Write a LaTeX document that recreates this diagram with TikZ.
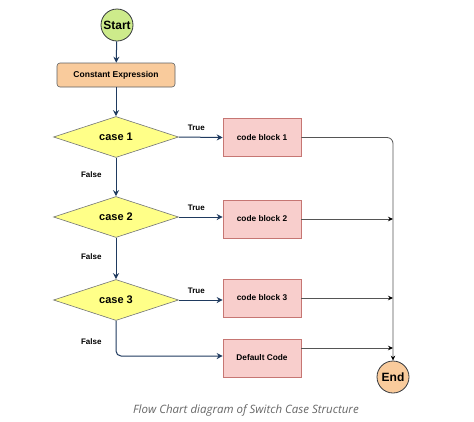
\documentclass[tikz,border=0pt]{standalone}
\usepackage{fontspec}
\setmainfont{Liberation Sans}
\newfontfamily\capfont{Open Sans}
\usetikzlibrary{shapes.geometric,arrows.meta}
\definecolor{startfill}{HTML}{CDEB8B}
\definecolor{orangefill}{HTML}{F9CB9C}
\definecolor{diafill}{HTML}{FFFF88}
\definecolor{redfill}{HTML}{F8CECC}
\definecolor{redline}{HTML}{B85450}
\definecolor{darkline}{HTML}{36393D}
\definecolor{navy}{HTML}{1F3A5F}
\definecolor{grayline}{HTML}{555555}
\tikzset{
  termnode/.style={circle,draw=darkline,line width=0.8pt,minimum size=32pt,inner sep=0pt,font=\bfseries\fontsize{12}{14}\selectfont},
  exprbox/.style={rectangle,rounded corners=3pt,draw=darkline!80,line width=0.6pt,fill=orangefill,minimum width=118pt,minimum height=24pt,inner sep=0pt,font=\bfseries\fontsize{8.5}{10}\selectfont},
  casenode/.style={diamond,aspect=3,draw=darkline!70,line width=0.6pt,fill=diafill,minimum width=125pt,minimum height=41pt,inner sep=0pt,font=\bfseries\fontsize{11}{13}\selectfont},
  codebox/.style={rectangle,draw=redline!80,line width=0.6pt,fill=redfill,minimum width=78pt,minimum height=38pt,inner sep=0pt,font=\bfseries\fontsize{8.3}{10}\selectfont},
  lbl/.style={font=\bfseries\fontsize{8}{9}\selectfont,inner sep=0pt},
  navyarrow/.style={draw=navy,line width=1pt,-{Stealth[length=6pt,width=6pt]}},
  grayarrow/.style={draw=grayline,line width=0.8pt,-{Stealth[length=5pt,width=4.5pt,black]}}
}
\begin{document}
\begin{tikzpicture}[x=1pt,y=-1pt]
\useasboundingbox[fill=white] (0,0) rectangle (474,421);
\node[termnode,fill=startfill] (start) at (117,25) {Start};
\node[exprbox] (expr) at (116,75) {Constant Expression};
\node[casenode] (c1) at (116,137) {case 1};
\node[casenode] (c2) at (116,217) {case 2};
\node[casenode] (c3) at (116,300) {case 3};
\node[codebox] (b1) at (262,137.5) {code block 1};
\node[codebox] (b2) at (262,219) {code block 2};
\node[codebox] (b3) at (262,298) {code block 3};
\node[codebox] (def) at (262,358) {Default Code};
\node[termnode,fill=orangefill] (end) at (393,377) {End};

\draw[navyarrow] (start) -- (expr);
\draw[navyarrow] (expr) -- (c1);
\draw[navyarrow] (c1) -- node[lbl,pos=0.45,left=14pt] {False} (c2);
\draw[navyarrow] (c2) -- node[lbl,pos=0.45,left=14pt] {False} (c3);
\draw[navyarrow] (c1.east) -- node[lbl,above=6pt,pos=0.4] {True} (b1.west);
\draw[navyarrow] (c2.east) -- node[lbl,above=6pt,pos=0.4] {True} (c2.east -| b2.west);
\draw[navyarrow] (c3.east) -- node[lbl,above=6pt,pos=0.4] {True} (c3.east -| b3.west);
\draw[navyarrow,rounded corners=5pt] (c3.south) |- node[lbl,pos=0.3,left=14pt] {False} ([yshift=2pt]def.west);

\draw[grayarrow,rounded corners=6pt] (b1.east) -| (end.north);
\draw[grayarrow] (b2.east) -- (b2.east -| end.north);
\draw[grayarrow] (b3.east) -- (b3.east -| end.north);
\coordinate (defout) at ([yshift=10pt]def.east);
\draw[grayarrow] (defout) -- (defout -| end.north);

\node[font=\capfont\itshape\fontsize{11.5}{13}\selectfont,text=black!60] (cap) at (246,410) {Flow Chart diagram of Switch Case Structure};
\end{tikzpicture}
\end{document}
